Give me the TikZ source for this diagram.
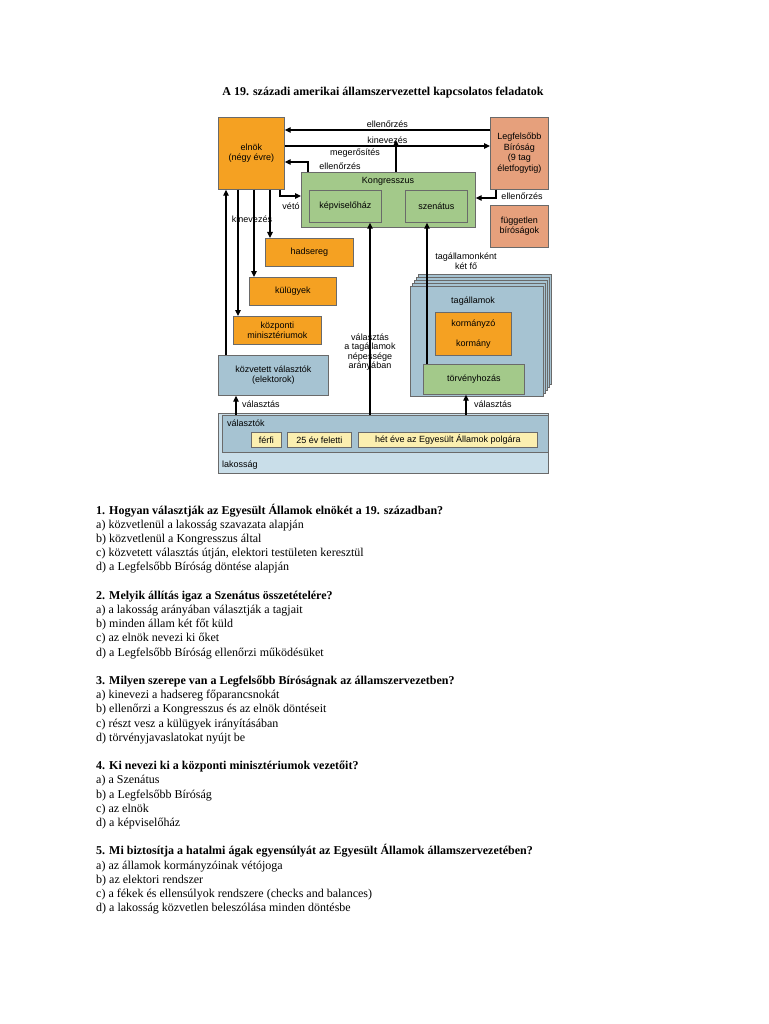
\documentclass[tikz,border=0pt]{standalone}
\usepackage{fontspec}
\setmainfont{Liberation Serif}
\newfontfamily\dfont{Liberation Sans}
\usetikzlibrary{arrows.meta}
\definecolor{org}{HTML}{F5A122}
\definecolor{sal}{HTML}{E6A07C}
\definecolor{grn}{HTML}{A3C98A}
\definecolor{blu}{HTML}{A6C3D2}
\definecolor{lbl}{HTML}{C9DEE9}
\definecolor{tag}{HTML}{FBEFB0}
\definecolor{edg}{HTML}{6A6A6A}
\begin{document}
\begin{tikzpicture}[x=1pt,y=-1pt,
  bx/.style={draw=edg,line width=0.7pt,inner sep=0pt,font=\dfont\fontsize{9}{10.5}\selectfont,align=center},
  lab/.style={font=\dfont\fontsize{9}{10}\selectfont,inner sep=0pt,align=center},
  ar/.style={line width=1.1pt,-{Triangle[length=6pt,width=5.5pt]}},
  q/.style={anchor=base west,inner sep=0pt,font=\fontsize{12}{14}\selectfont}]
\useasboundingbox (0,0) rectangle (768,1024);
\node[font=\bfseries\fontsize{12}{14}\selectfont] (title) at (383,93) {A 19. századi amerikai államszervezettel kapcsolatos feladatok};
% population
\node[bx,fill=lbl,minimum width=330,minimum height=60,anchor=north west] (lak) at (218,413) {};
\node[lab,anchor=west] (lakl) at (222,465) {lakosság};
\node[bx,fill=blu,minimum width=326,minimum height=37,anchor=north west] (val) at (222,415) {};
\node[lab,anchor=west] (vall) at (227,423) {választók};
\node[bx,fill=tag,minimum width=30,minimum height=15,anchor=north west] (t1) at (251,432) {férfi};
\node[bx,fill=tag,minimum width=64,minimum height=15,anchor=north west] (t2) at (287,432) {25 év feletti};
\node[bx,fill=tag,minimum width=179,minimum height=15,anchor=north west] (t3) at (358,432) {hét éve az Egyesült Államok polgára};
% states stack
\foreach \i in {4,3,2,1}{
  \node[bx,fill=blu,minimum width=133,minimum height=110,anchor=north west] (st\i) at (410+2*\i,286-3*\i) {};
}
\node[bx,fill=blu,minimum width=133,minimum height=110,anchor=north west] (st) at (410,286) {};
\node[lab] (stl) at (473,301) {tagállamok};
\node[bx,fill=org,minimum width=76,minimum height=43,anchor=north west,font=\dfont\fontsize{9}{20}\selectfont] (korm) at (435,312) {kormányzó\\kormány};
\node[bx,fill=grn,minimum width=101,minimum height=30,anchor=north west] (torv) at (423,364) {törvényhozás};
% president etc
\node[bx,fill=org,minimum width=66,minimum height=72,anchor=north west] (eln) at (218,117) {elnök\\(négy évre)};
\node[bx,fill=sal,minimum width=58,minimum height=72,anchor=north west] (leg) at (490,117) {Legfelsőbb\\Bíróság\\(9 tag\\életfogytig)};
\node[bx,fill=sal,minimum width=58,minimum height=42,anchor=north west] (fug) at (490,205) {független\\bíróságok};
\node[bx,fill=grn,minimum width=174,minimum height=55,anchor=north west] (kon) at (301,172) {};
\node[lab] (konl) at (388,181) {Kongresszus};
\node[bx,fill=grn,minimum width=72,minimum height=32,anchor=north west] (kep) at (309,190) {képviselőház};
\node[bx,fill=grn,minimum width=62,minimum height=32,anchor=north west] (sze) at (405,190) {szenátus};
\node[bx,fill=org,minimum width=88,minimum height=28,anchor=north west] (had) at (265,238) {hadsereg};
\node[bx,fill=org,minimum width=87,minimum height=28,anchor=north west] (kul) at (249,277) {külügyek};
\node[bx,fill=org,minimum width=88,minimum height=28,anchor=north west] (kozp) at (233,316) {központi\\minisztériumok};
\node[bx,fill=blu,minimum width=110,minimum height=40,anchor=north west] (kozv) at (218,355) {közvetett választók\\(elektorok)};
% arrows
\draw[ar] (leg.west|-0,130) -- (eln.east|-0,130) node[lab,midway,above=2pt] {ellenőrzés};
\draw[ar] (eln.east|-0,146) -- (leg.west|-0,146) node[lab,midway,above=2pt] {kinevezés};
\draw[ar] (kon.north-|396,0) -- (396,140);
\node[lab] (meg) at (355,153) {megerősítés};
\draw[ar] (kon.north-|308,0) -- (308,162) -- (eln.east|-0,162);
\node[lab] (ell2) at (340,166) {ellenőrzés};
\draw[ar] (eln.south-|280,0) -- (280,196) -- (kon.west|-0,196);
\node[lab] (veto) at (291,206) {vétó};
\draw[ar] (eln.south-|270,0) -- (had.north-|270,0);
\node[lab] (kin2) at (252,219) {kinevezés};
\draw[ar] (eln.south-|254,0) -- (kul.north-|254,0);
\draw[ar] (eln.south-|238,0) -- (kozp.north-|238,0);
\draw[ar] (kozv.north-|226,0) -- (eln.south-|226,0);
\draw[ar] (leg.south-|496,0) -- (496,198) -- (kon.east|-0,198);
\node[lab] (ell3) at (522,196) {ellenőrzés};
\draw[ar] (val.north-|236,0) -- (kozv.south-|236,0);
\node[lab,anchor=west] (v1) at (242,404) {választás};
\draw[ar] (val.north-|370,0) -- (kep.south-|370,0);
\node[lab,font=\dfont\fontsize{9}{9.5}\selectfont] (v2) at (370,352) {választás\\a tagállamok\\népessége\\arányában};
\draw[ar] (torv.north-|427,0) -- (sze.south-|427,0);
\node[lab,font=\dfont\fontsize{9}{9.5}\selectfont] (tk) at (466,261) {tagállamonként\\két fő};
\draw[ar] (val.north-|466,0) -- (torv.south-|466,0);
\node[lab,anchor=west] (v3) at (474,404) {választás};
% questions
\begin{scope}[every node/.style={q}]
\node (q1) at (96,514) {\textbf{1. Hogyan választják az Egyesült Államok elnökét a 19. században?}};
\node (q1a) at (96,528.2) {a) közvetlenül a lakosság szavazata alapján};
\node (q1b) at (96,542.4) {b) közvetlenül a Kongresszus által};
\node (q1c) at (96,556.6) {c) közvetett választás útján, elektori testületen keresztül};
\node (q1d) at (96,570.8) {d) a Legfelsőbb Bíróság döntése alapján};
\node (q2) at (96,599.2) {\textbf{2. Melyik állítás igaz a Szenátus összetételére?}};
\node (q2a) at (96,613.4) {a) a lakosság arányában választják a tagjait};
\node (q2b) at (96,627.6) {b) minden állam két főt küld};
\node (q2c) at (96,641.8) {c) az elnök nevezi ki őket};
\node (q2d) at (96,656) {d) a Legfelsőbb Bíróság ellenőrzi működésüket};
\node (q3) at (96,684.4) {\textbf{3. Milyen szerepe van a Legfelsőbb Bíróságnak az államszervezetben?}};
\node (q3a) at (96,698.6) {a) kinevezi a hadsereg főparancsnokát};
\node (q3b) at (96,712.8) {b) ellenőrzi a Kongresszus és az elnök döntéseit};
\node (q3c) at (96,727) {c) részt vesz a külügyek irányításában};
\node (q3d) at (96,741.2) {d) törvényjavaslatokat nyújt be};
\node (q4) at (96,769.6) {\textbf{4. Ki nevezi ki a központi minisztériumok vezetőit?}};
\node (q4a) at (96,783.8) {a) a Szenátus};
\node (q4b) at (96,798) {b) a Legfelsőbb Bíróság};
\node (q4c) at (96,812.2) {c) az elnök};
\node (q4d) at (96,826.4) {d) a képviselőház};
\node (q5) at (96,854.8) {\textbf{5. Mi biztosítja a hatalmi ágak egyensúlyát az Egyesült Államok államszervezetében?}};
\node (q5a) at (96,869) {a) az államok kormányzóinak vétójoga};
\node (q5b) at (96,883.2) {b) az elektori rendszer};
\node (q5c) at (96,897.4) {c) a fékek és ellensúlyok rendszere (checks and balances)};
\node (q5d) at (96,911.6) {d) a lakosság közvetlen beleszólása minden döntésbe};
\end{scope}
\end{tikzpicture}
\end{document}
